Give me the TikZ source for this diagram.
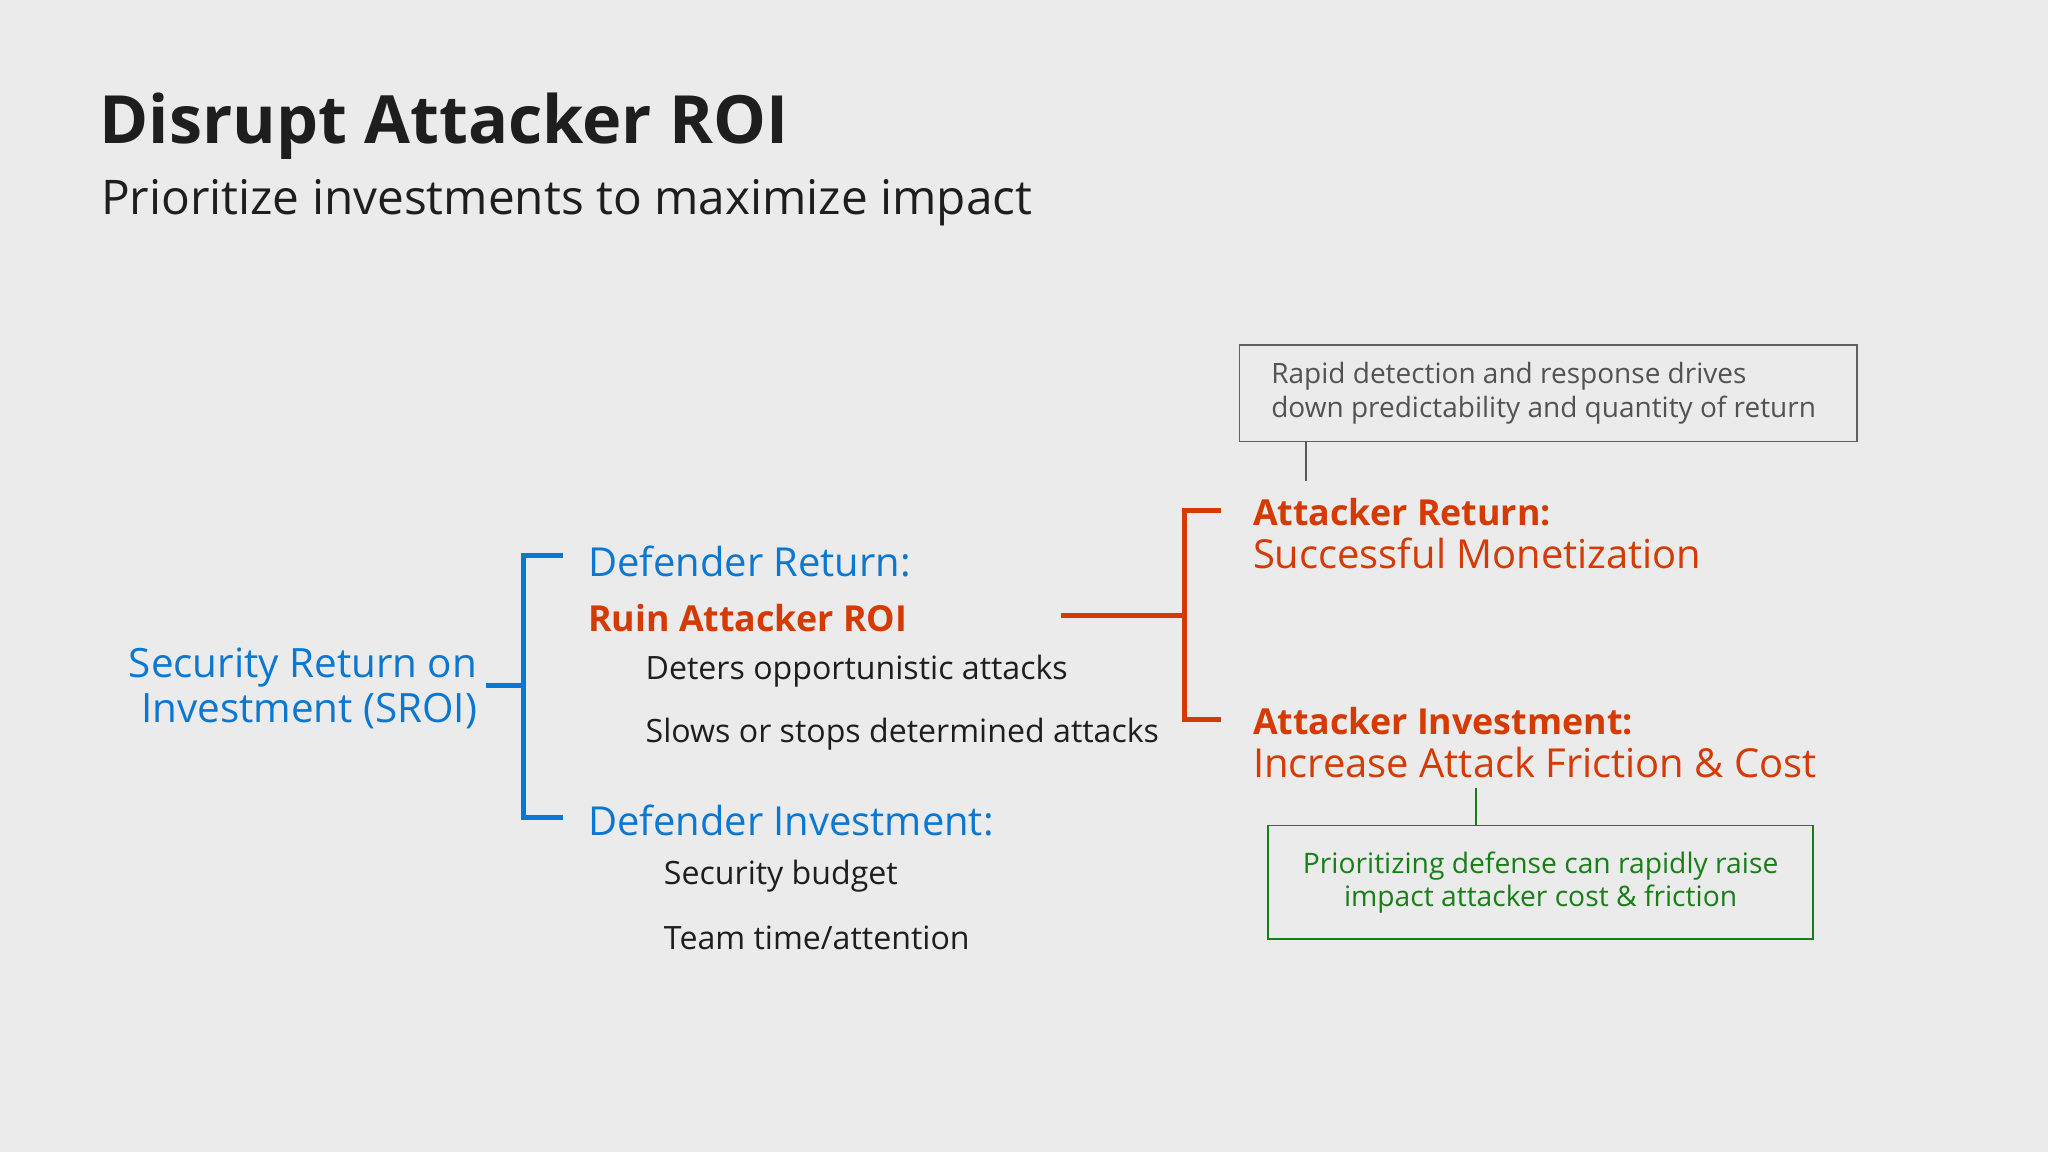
\documentclass[tikz,border=0pt]{standalone}
\usepackage{fontspec}
\setmainfont{Open Sans}
\definecolor{bg}{HTML}{EBEBEB}
\definecolor{msblue}{HTML}{0A78D2}
\definecolor{msorange}{HTML}{D43A02}
\definecolor{msgreen}{HTML}{168016}
\definecolor{txt}{HTML}{1E1E1E}
\begin{document}
\begin{tikzpicture}[x=0.02cm,y=-0.02cm,
  lbl/.style={anchor=west,inner sep=0pt,text=txt},
  big/.style={font=\fontsize{17.4}{21}\selectfont},
  bigb/.style={font=\fontsize{15.6}{19}\selectfont\bfseries},
  small/.style={font=\fontsize{14}{17}\selectfont},
  bluebr/.style={draw=msblue,line width=2.2pt},
  orbr/.style={draw=msorange,line width=2.2pt}]
\fill[bg] (0,0) rectangle (1568,882);
\useasboundingbox (0,0) rectangle (1568,882);
\node[lbl,font=\fontsize{29}{34}\selectfont\bfseries] (title) at (76,97) {Disrupt Attacker ROI};
\node[lbl,font=\fontsize{20.8}{25}\selectfont] (sub) at (77,155) {Prioritize investments to maximize impact};
% left
\node[big,text=msblue,align=right,inner sep=0pt,font=\fontsize{17.6}{21}\selectfont] (sroi) at (232,527) {Security Return on\\[-1pt]Investment (SROI)};
\node[lbl,big,text=msblue] (dr) at (450,430) {Defender Return:};
\node[lbl,bigb,text=msorange] (ruin) at (450,473) {Ruin Attacker ROI};
\node[lbl,small] (det) at (494,514) {Deters opportunistic attacks};
\node[lbl,small] (slow) at (494,562) {Slows or stops determined attacks};
\node[lbl,big,text=msblue] (di) at (450,628) {Defender Investment:};
\node[lbl,small] (sb) at (508,671) {Security budget};
\node[lbl,small] (tt) at (508,718) {Team time/attention};
% blue bracket
\coordinate (b0) at (372,525);
\coordinate (b1) at (401,525);
\coordinate (bt) at (431,425);
\coordinate (bb) at (431,626);
\draw[bluebr] (b0) -- (b1);
\draw[bluebr] (bt) -| (b1) |- (bb);
% orange bracket
\coordinate (o0) at (812,471);
\coordinate (o1) at (907,471);
\coordinate (ot) at (935,391);
\coordinate (ob) at (935,551);
\draw[orbr] (o0) -- (o1);
\draw[orbr] (ot) -| (o1) |- (ob);
% right
\node[lbl,bigb,text=msorange] (ar) at (959,392) {Attacker Return:};
\node[lbl,big,text=msorange] (sm) at (959,424) {Successful Monetization};
\node[lbl,bigb,text=msorange] (ai) at (959,552) {Attacker Investment:};
\node[lbl,big,text=msorange] (iaf) at (959,584) {Increase Attack Friction \& Cost};
% boxes
\draw[gray!75!black,line width=0.8pt] (949,264) rectangle (1422,338);
\node[anchor=west,text=black!68,align=left,font=\fontsize{12.2}{14.5}\selectfont,inner sep=0pt] (gbox) at (973,301)
  {Rapid detection and response drives\\down predictability and quantity of return};
\node[draw=msgreen,line width=0.8pt,minimum width=417*0.02cm,minimum height=87*0.02cm,text=msgreen,align=center,
  font=\fontsize{12.3}{14.5}\selectfont,inner sep=0pt] (grbox) at (1179.5,675.5)
  {Prioritizing defense can rapidly raise\\impact attacker cost \& friction};
\coordinate (gt) at (1000,338);
\coordinate (gc) at (1000,368);
\draw[gray!70!black,line width=0.6pt] (gt) -- (gc);
\coordinate (gr) at (1130,603);
\draw[msgreen,line width=0.6pt] (grbox.north -| gr) -- (gr);
\end{tikzpicture}
\end{document}
